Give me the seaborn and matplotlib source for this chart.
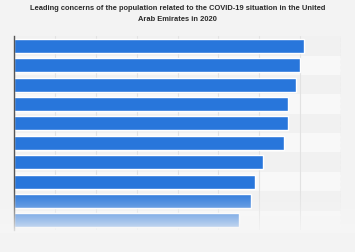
import numpy as np
import pandas as pd
import matplotlib
matplotlib.use("Agg")
import matplotlib.pyplot as plt
import seaborn as sns

# Data (category labels are not legible in the reference)
categories = ["Concern 1", "Concern 2", "Concern 3", "Concern 4", "Concern 5",
              "Concern 6", "Concern 7", "Concern 8", "Concern 9", "Concern 10"]
values = [71, 70, 69, 67, 67, 66, 61, 59, 58, 55]
x_max = 80
x_ticks = [0, 10, 20, 30, 40, 50, 60, 70, 80]
title = "Leading concerns of the population related to the COVID-19 situation in the United\nArab Emirates in 2020"

sns.set_theme(style="white")
plt.rcParams["font.family"] = ["Liberation Sans", "DejaVu Sans"]

BG = "#f3f3f3"
BAR = "#2876db"

fig = plt.figure(figsize=(3.55, 2.53), dpi=100, facecolor=BG)
ax = fig.add_axes([14.3 / 355, 1 - 231 / 253, (341 - 14.3) / 355, (231 - 37.2) / 253])
ax.set_facecolor(BG)

df = pd.DataFrame({"category": categories, "value": values})

# alternating row bands
for i in range(len(categories)):
    ax.axhspan(i - 0.5, i + 0.5, color="#f1f1f1" if i % 2 == 0 else "#f8f8f8", zorder=0, lw=0)

sns.barplot(data=df, x="value", y="category", orient="h", color=BAR, width=0.72,
            saturation=1, ax=ax, zorder=3)

ax.set_xlim(0, x_max)
ax.set_ylim(len(categories) - 0.5, -0.5)
ax.set_xticks(x_ticks)
ax.set_xticklabels([])
ax.set_yticklabels([])
ax.tick_params(length=0)
ax.set_xlabel("")
ax.set_ylabel("")
ax.xaxis.grid(True, color="#e2e2e2", lw=0.8, zorder=1)
ax.set_axisbelow(True)
for s in ["top", "right", "bottom"]:
    ax.spines[s].set_visible(False)
ax.spines["left"].set_color("#555555")
ax.spines["left"].set_linewidth(1.0)
ax.spines["left"].set_zorder(5)
ax.axvline(x_max, color="#cfcfcf", lw=0.8, ls=(0, (3, 2)), zorder=2)

fig.text(0.5, 1 - 5 / 253, title, ha="center", va="top", fontsize=5.4,
         fontweight="bold", color="#2a2a2a", linespacing=1.75)

# fade overlay at the bottom
ov = fig.add_axes([0, 1 - 234 / 253, 1, (234 - 190) / 253])
ov.axis("off")
n = 100
alpha = np.linspace(0, 0.9, n) ** 1.2
img = np.zeros((n, 1, 4))
img[..., :3] = np.array([0.965, 0.965, 0.965])
img[:, 0, 3] = alpha
ov.imshow(img, aspect="auto", extent=[0, 1, 0, 1], origin="upper")
ov.set_xlim(0, 1)
ov.set_ylim(0, 1)

fig.savefig("out.png", dpi=100, facecolor=BG)
